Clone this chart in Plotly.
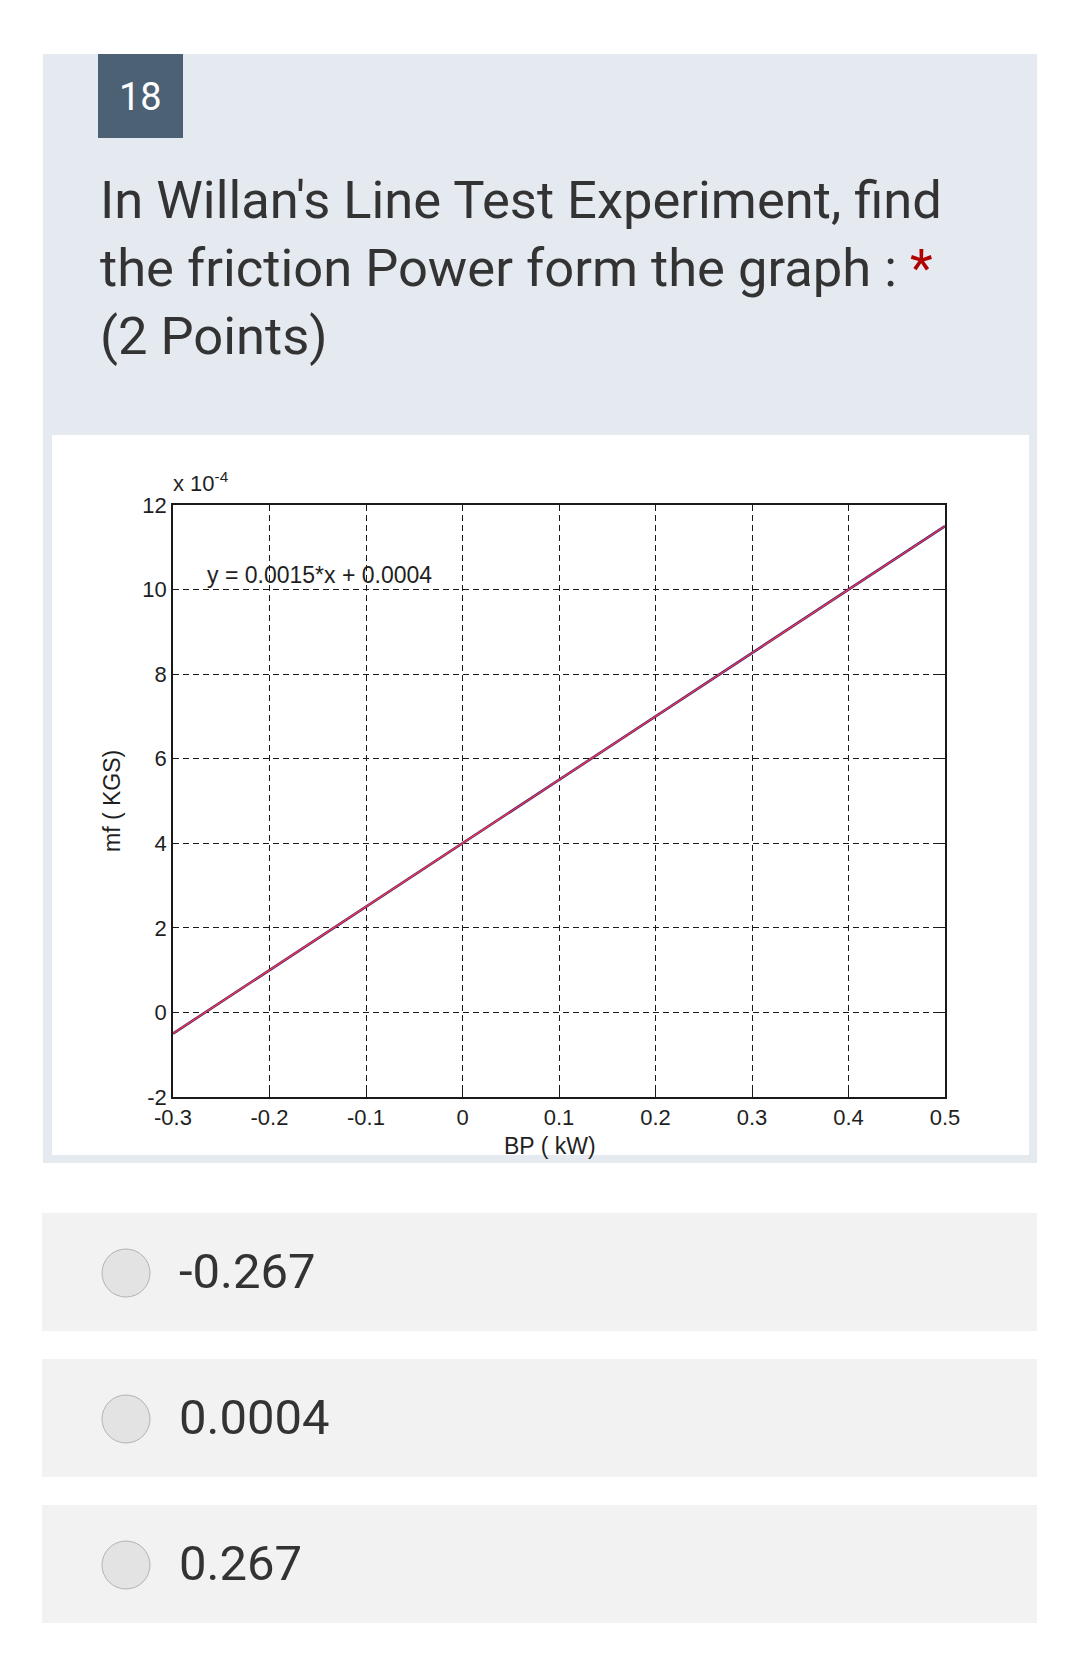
import plotly.graph_objects as go

W, H = 1080, 1661
OFF = 8  # page body margin that shifts the whole figure

# values (mf in units of 1e-4)
bp_kw = [-0.3, -0.2, -0.1, 0.0, 0.1, 0.2, 0.3, 0.4, 0.5]
mf_measured = [-0.5, 1.0, 2.5, 4.0, 5.5, 7.0, 8.5, 10.0, 11.5]
mf_fit = [-0.5, 1.0, 2.5, 4.0, 5.5, 7.0, 8.5, 10.0, 11.5]

x_ticks = [-0.3, -0.2, -0.1, 0, 0.1, 0.2, 0.3, 0.4, 0.5]
x_labels = ["-0.3", "-0.2", "-0.1", "0", "0.1", "0.2", "0.3", "0.4", "0.5"]
y_ticks = [-2, 0, 2, 4, 6, 8, 10, 12]
y_labels = ["-2", "0", "2", "4", "6", "8", "10", "12"]

title_lines = [
    "In Willan's Line Test Experiment, find",
    "the friction Power form the graph : <span style='color:#b00000'>*</span>",
    "(2 Points)",
]
options = ["-0.267", "0.0004", "0.267"]


def px(x):
    return (x - OFF) / W


def py(y):
    return 1 - (y - OFF) / H


def rect(x0, y0, x1, y1, color):
    return dict(type="rect", xref="paper", yref="paper", layer="below",
                x0=px(x0), x1=px(x1), y0=py(y1), y1=py(y0),
                fillcolor=color, line=dict(width=0))


def label(text, x, y, size, color="#333333", xanchor="center", **kw):
    return dict(text=text, x=px(x), y=py(y), xref="paper", yref="paper",
                xanchor=xanchor, yanchor="middle", showarrow=False,
                font=dict(family=kw.pop("family", "Roboto"), size=size, color=color), **kw)


fig = go.Figure()

# measured data (purple) with fitted line (red) on top
fig.add_trace(go.Scatter(x=bp_kw, y=mf_measured, mode="lines",
                         line=dict(color="#4a237f", width=2.6)))
fig.add_trace(go.Scatter(x=bp_kw, y=mf_fit, mode="lines",
                         line=dict(color="#ff3b3b", width=1.2)))

shapes = [
    rect(43, 54, 1037, 1163, "#e5e9f0"),   # question panel
    rect(98, 54, 183, 138, "#4c6174"),     # number badge
    rect(52, 435, 1029, 1155, "#ffffff"),  # chart image
]
box_tops = [1213, 1359, 1505]
for t in box_tops:
    shapes.append(rect(42, t, 1037, t + 118, "#f2f2f2"))
    cy = t + 60
    shapes.append(dict(type="circle", xref="paper", yref="paper",
                       x0=px(126 - 24), x1=px(126 + 24),
                       y0=py(cy + 24), y1=py(cy - 24),
                       fillcolor="#e3e3e3", line=dict(color="#b3b3b3", width=1)))

ann = [label("18", 140, 97, 38, color="white")]
for i, line in enumerate(title_lines):
    ann.append(label(line, 98, 200 + i * 68, 52.5, xanchor="left"))
for t, opt in zip(box_tops, options):
    ann.append(label(opt, 177, t + 58, 49, xanchor="left"))

cf = "Liberation Sans, Arial"
ann.append(label("x 10<sup>-4</sup>", 171, 482, 22, color="#1f1f1f", xanchor="left", family=cf))
ann.append(label("mf ( KGS)", 112, 801, 23, color="#1f1f1f", family=cf, textangle=-90))
ann.append(label("BP ( kW)", 550, 1146, 23, color="#1f1f1f", family=cf))
ann.append(dict(text="y = 0.0015*x + 0.0004", x=-0.267, y=10, xref="x", yref="y",
                xanchor="left", yanchor="bottom", showarrow=False,
                font=dict(family=cf, size=23, color="#1f1f1f")))

chart_font = dict(family=cf, size=22, color="#1f1f1f")
axis_common = dict(showline=True, linecolor="#1a1a1a", linewidth=1.5, mirror="ticks",
                   ticks="inside", ticklen=6, tickcolor="#1a1a1a", automargin=False,
                   showgrid=True, gridcolor="#1a1a1a", gridwidth=1.4, griddash="6px,4px",
                   zeroline=False, tickfont=chart_font)

fig.update_layout(
    width=W, height=H,
    margin=dict(l=0, r=0, t=0, b=0, autoexpand=False),
    paper_bgcolor="white", plot_bgcolor="white",
    showlegend=False,
    shapes=shapes,
    annotations=ann,
    xaxis=dict(domain=[px(173), px(945)], range=[-0.3, 0.5],
               tickvals=x_ticks, ticktext=x_labels, **axis_common),
    yaxis=dict(domain=[py(1097), py(505)], range=[-2, 12],
               tickvals=y_ticks, ticktext=y_labels, **axis_common),
)

fig.write_html("out.html")
